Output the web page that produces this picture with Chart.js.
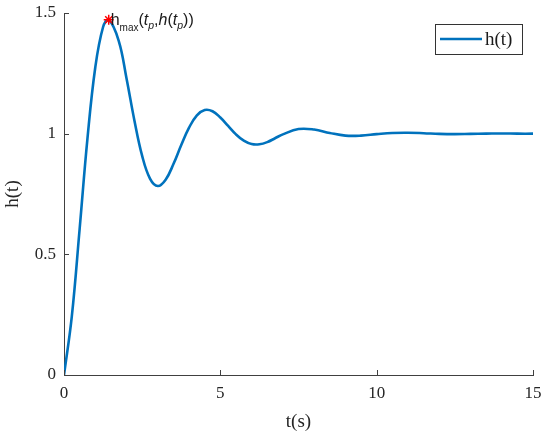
<!DOCTYPE html>
<html>
<head>
<meta charset="utf-8">
<script src="https://cdn.jsdelivr.net/npm/chart.js@4/dist/chart.umd.min.js"></script>
<style>
  html, body { margin: 0; padding: 0; background: #fff; }
  #wrap { width: 550px; height: 438px; }
</style>
</head>
<body>
<div id="wrap"><canvas id="stepChart" width="550" height="438"></canvas></div>
<script>
// step response h(t)
var T_VALUES = [0, 0.25, 0.5, 0.75, 1, 1.25, 1.43, 1.75, 2, 2.25, 2.5, 2.75, 3, 3.25, 3.5, 3.75,
  4, 4.25, 4.5, 4.75, 5, 5.25, 5.5, 5.75, 6, 6.25, 6.5, 6.75, 7, 7.5, 8, 8.5, 9, 9.5,
  10, 10.5, 11, 11.5, 12, 12.5, 13, 13.5, 14, 14.5, 15];
var H_VALUES = [0, 0.243, 0.605, 0.979, 1.274, 1.442, 1.472, 1.385, 1.229, 1.056, 0.908, 0.814, 0.783, 0.809, 0.874, 0.953,
  1.025, 1.076, 1.098, 1.093, 1.067, 1.032, 0.997, 0.971, 0.957, 0.956, 0.965, 0.981, 0.997, 1.019, 1.017, 1.003, 0.992, 0.992,
  0.998, 1.003, 1.004, 1.002, 0.999, 0.998, 0.999, 1.000, 1.001, 1.000, 1.000];

var PEAK_T = [1.43];
var PEAK_H = [1.472];

var X_TICKS = [0, 5, 10, 15];
var Y_TICKS = [0, 0.5, 1, 1.5];

var SERIES_LABEL = 'h(t)';
var AXIS_COLOR = '#404040';
var LINE_COLOR = '#0072bd';

function pts(xs, ys) {
  return xs.map(function(x, i) { return {x: x, y: ys[i]}; });
}

// inward tick marks like matlab
var innerTicks = {
  id: 'innerTicks',
  afterDraw: function(chart) {
    var c = chart.ctx, xs = chart.scales.x, ys = chart.scales.y;
    var a = chart.chartArea;
    c.save();
    c.strokeStyle = AXIS_COLOR;
    c.lineWidth = 1;
    c.beginPath();
    X_TICKS.forEach(function(v) {
      var px = Math.round(xs.getPixelForValue(v)) + 0.5;
      c.moveTo(px, a.bottom);
      c.lineTo(px, a.bottom - 5);
    });
    Y_TICKS.forEach(function(v) {
      var py = Math.round(ys.getPixelForValue(v)) + 0.5;
      c.moveTo(a.left, py);
      c.lineTo(a.left + 5, py);
    });
    c.stroke();
    c.restore();
  }
};

// text next to the peak marker: h_max(t_p,h(t_p))
var peakText = {
  id: 'peakText',
  afterDatasetsDraw: function(chart) {
    var c = chart.ctx;
    var px = chart.scales.x.getPixelForValue(PEAK_T[0]);
    var py = chart.scales.y.getPixelForValue(PEAK_H[0]);
    var x = px + 2, base = py + 5;
    var big = '16px "Liberation Sans", Arial, sans-serif';
    var bigIt = 'italic 16px "Liberation Sans", Arial, sans-serif';
    var small = '10px "Liberation Sans", Arial, sans-serif';
    var smallIt = 'italic 10.5px "Liberation Sans", Arial, sans-serif';
    var parts = [
      [big, 'h', 0], [small, 'max', 6.5], [big, '(', 0], [bigIt, 't', 0], [smallIt, 'p', 4.5],
      [big, ',', 0], [bigIt, 'h', 0], [big, '(', 0], [bigIt, 't', 0], [smallIt, 'p', 4.5], [big, '))', 0]
    ];
    c.save();
    c.fillStyle = '#1a1a1a';
    c.textBaseline = 'alphabetic';
    c.textAlign = 'left';
    parts.forEach(function(p) {
      c.font = p[0];
      c.fillText(p[1], x, base + p[2]);
      x += c.measureText(p[1]).width;
    });
    c.restore();
  }
};

// boxed legend in the top right corner
var boxLegend = {
  id: 'boxLegend',
  afterDraw: function(chart) {
    var c = chart.ctx, a = chart.chartArea;
    var w = 87, h = 30;
    var bx = a.right - 98, by = a.top + 11;
    c.save();
    c.fillStyle = '#fff';
    c.fillRect(bx, by, w, h);
    c.strokeStyle = '#333';
    c.lineWidth = 1;
    c.strokeRect(Math.round(bx) + 0.5, Math.round(by) + 0.5, w, h);
    c.strokeStyle = LINE_COLOR;
    c.lineWidth = 2.5;
    c.beginPath();
    c.moveTo(bx + 5, by + h / 2);
    c.lineTo(bx + 47, by + h / 2);
    c.stroke();
    c.fillStyle = '#1a1a1a';
    c.font = '19px "Liberation Serif", "Times New Roman", serif';
    c.textBaseline = 'middle';
    c.fillText(SERIES_LABEL, bx + 50, by + h / 2 + 1);
    c.restore();
  }
};

var tickFont = { family: '"Liberation Serif", "Times New Roman", serif', size: 17 };
var titleFont = { family: '"Liberation Serif", "Times New Roman", serif', size: 19 };

new Chart(document.getElementById('stepChart'), {
  type: 'scatter',
  data: {
    datasets: [
      {
        label: 'peak',
        data: pts(PEAK_T, PEAK_H),
        showLine: false,
        pointStyle: 'star',
        pointRadius: 5,
        borderColor: '#ff0000',
        backgroundColor: '#ff0000',
        borderWidth: 1.5,
        order: 0
      },
      {
        label: SERIES_LABEL,
        data: pts(T_VALUES, H_VALUES),
        showLine: true,
        borderColor: LINE_COLOR,
        borderWidth: 2.6,
        pointRadius: 0,
        tension: 0.4,
        order: 1
      }
    ]
  },
  options: {
    responsive: false,
    animation: false,
    devicePixelRatio: 1,
    layout: { padding: { top: 13, right: 17, left: 0, bottom: 0 } },
    plugins: {
      legend: { display: false },
      tooltip: { enabled: false }
    },
    scales: {
      x: {
        type: 'linear',
        min: 0,
        max: 15,
        afterFit: function(s) { s.height = 63; s.paddingRight = 0; s.paddingLeft = 0; },
        afterBuildTicks: function(s) { s.ticks = X_TICKS.map(function(v) { return {value: v}; }); },
        grid: { display: false, drawTicks: false },
        border: { display: true, color: AXIS_COLOR, width: 1 },
        ticks: { font: tickFont, color: '#262626', padding: 8, maxRotation: 0,
          callback: function(v) { return String(v); } },
        title: { display: true, text: 't(s)', font: titleFont, color: '#262626', padding: { top: 0, bottom: 5 } }
      },
      y: {
        type: 'linear',
        min: 0,
        max: 1.5,
        afterFit: function(s) { s.width = 64; s.paddingTop = 0; s.paddingBottom = 0; },
        afterBuildTicks: function(s) { s.ticks = Y_TICKS.map(function(v) { return {value: v}; }); },
        grid: { display: false, drawTicks: false },
        border: { display: true, color: AXIS_COLOR, width: 1 },
        ticks: { font: tickFont, color: '#262626', padding: 8,
          callback: function(v) { return String(v); } },
        title: { display: true, text: 'h(t)', font: titleFont, color: '#262626', padding: { top: 2, bottom: 0 } }
      }
    }
  },
  plugins: [innerTicks, peakText, boxLegend]
});
</script>
</body>
</html>
